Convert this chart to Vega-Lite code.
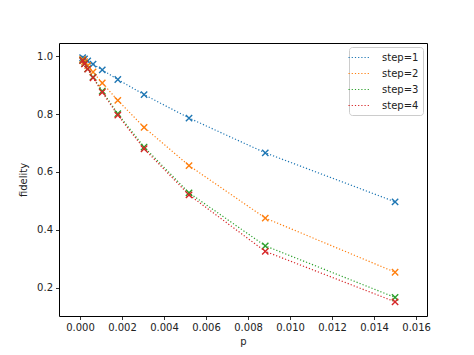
{
  "$schema": "https://vega.github.io/schema/vega-lite/v6.json",
  "width": 368,
  "height": 273,
  "autosize": {"type": "none"},
  "padding": {"left": 59, "top": 43, "right": 47, "bottom": 39},
  "background": "white",
  "config": {
    "view": {"stroke": "#000", "strokeWidth": 1},
    "font": "DejaVu Sans",
    "axis": {
      "domain": false, "grid": false, "tickColor": "#000", "tickSize": 3.5, "tickWidth": 0.8,
      "labelFont": "DejaVu Sans", "labelFontSize": 10, "labelColor": "#222",
      "titleFont": "DejaVu Sans", "titleFontSize": 10, "titleFontWeight": "normal", "titleColor": "#222",
      "labelPadding": 3
    }
  },
  "data": {"values": [
    {"series": "step=1", "p": 0.000126, "fidelity": 0.994},
    {"series": "step=1", "p": 0.000215, "fidelity": 0.990},
    {"series": "step=1", "p": 0.000365, "fidelity": 0.983},
    {"series": "step=1", "p": 0.000621, "fidelity": 0.972},
    {"series": "step=1", "p": 0.00106, "fidelity": 0.952},
    {"series": "step=1", "p": 0.0018, "fidelity": 0.919},
    {"series": "step=1", "p": 0.00305, "fidelity": 0.867},
    {"series": "step=1", "p": 0.00519, "fidelity": 0.786},
    {"series": "step=1", "p": 0.00882, "fidelity": 0.666},
    {"series": "step=1", "p": 0.015, "fidelity": 0.497},
    {"series": "step=2", "p": 0.000126, "fidelity": 0.9886},
    {"series": "step=2", "p": 0.000215, "fidelity": 0.9805},
    {"series": "step=2", "p": 0.000365, "fidelity": 0.967},
    {"series": "step=2", "p": 0.000621, "fidelity": 0.945},
    {"series": "step=2", "p": 0.00106, "fidelity": 0.907},
    {"series": "step=2", "p": 0.0018, "fidelity": 0.847},
    {"series": "step=2", "p": 0.00305, "fidelity": 0.754},
    {"series": "step=2", "p": 0.00519, "fidelity": 0.622},
    {"series": "step=2", "p": 0.00882, "fidelity": 0.441},
    {"series": "step=2", "p": 0.015, "fidelity": 0.254},
    {"series": "step=3", "p": 0.000126, "fidelity": 0.985},
    {"series": "step=3", "p": 0.000215, "fidelity": 0.974},
    {"series": "step=3", "p": 0.000365, "fidelity": 0.956},
    {"series": "step=3", "p": 0.000621, "fidelity": 0.927},
    {"series": "step=3", "p": 0.00106, "fidelity": 0.879},
    {"series": "step=3", "p": 0.0018, "fidelity": 0.801},
    {"series": "step=3", "p": 0.00305, "fidelity": 0.686},
    {"series": "step=3", "p": 0.00519, "fidelity": 0.528},
    {"series": "step=3", "p": 0.00882, "fidelity": 0.345},
    {"series": "step=3", "p": 0.015, "fidelity": 0.167},
    {"series": "step=4", "p": 0.000126, "fidelity": 0.984},
    {"series": "step=4", "p": 0.000215, "fidelity": 0.973},
    {"series": "step=4", "p": 0.000365, "fidelity": 0.955},
    {"series": "step=4", "p": 0.000621, "fidelity": 0.925},
    {"series": "step=4", "p": 0.00106, "fidelity": 0.875},
    {"series": "step=4", "p": 0.0018, "fidelity": 0.796},
    {"series": "step=4", "p": 0.00305, "fidelity": 0.680},
    {"series": "step=4", "p": 0.00519, "fidelity": 0.521},
    {"series": "step=4", "p": 0.00882, "fidelity": 0.326},
    {"series": "step=4", "p": 0.015, "fidelity": 0.152}
  ]},
  "encoding": {
    "x": {"field": "p", "type": "quantitative",
      "scale": {"domain": [-0.001, 0.01652], "nice": false, "zero": false},
      "axis": {"values": [0, 0.002, 0.004, 0.006, 0.008, 0.010, 0.012, 0.014, 0.016], "format": ".3f", "title": "p", "titlePadding": 4, "labelFlush": false}},
    "y": {"field": "fidelity", "type": "quantitative",
      "scale": {"domain": [0.103, 1.045], "nice": false, "zero": false},
      "axis": {"values": [0.2, 0.4, 0.6, 0.8, 1.0], "format": ".1f", "title": "fidelity", "titlePadding": 8, "labelFlush": false}},
    "color": {"field": "series", "type": "nominal",
      "scale": {"domain": ["step=1", "step=2", "step=3", "step=4"], "range": ["#1f77b4", "#ff7f0e", "#2ca02c", "#d62728"]},
      "legend": {"title": null, "orient": "top-right", "offset": 4,
        "symbolType": "M-2,0L2,0", "symbolDash": [1.2, 2], "symbolStrokeWidth": 1.2, "symbolSize": 121, "symbolFillColor": "transparent",
        "labelFont": "DejaVu Sans", "labelFontSize": 10, "labelColor": "#222", "labelOffset": 16,
        "rowPadding": 4, "padding": 4, "strokeColor": "#ccc", "fillColor": "white", "cornerRadius": 3}}
  },
  "layer": [
    {"mark": {"type": "line", "strokeDash": [1.2, 2], "strokeWidth": 1.2}},
    {"mark": {"type": "point", "shape": "M-1,-1L1,1M-1,1L1,-1", "filled": false, "size": 40, "strokeWidth": 1.4, "opacity": 1}}
  ]
}
